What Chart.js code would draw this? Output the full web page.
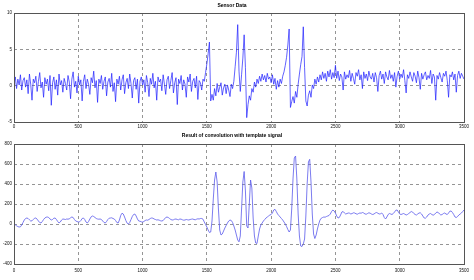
<!DOCTYPE html>
<html>
<head>
<meta charset="utf-8">
<script src="https://cdn.jsdelivr.net/npm/chart.js@4.4.0/dist/chart.umd.min.js"></script>
<style>
  body { margin: 0; background: #fff; }
  #wrap { position: relative; width: 474px; height: 280px; }
  canvas { position: absolute; left: 0; }
</style>
</head>
<body>
<div id="wrap">
  <canvas id="sensor_graph" width="474" height="130" style="top:0px"></canvas>
  <canvas id="conv_graph" width="474" height="150" style="top:130px"></canvas>
</div>
<script>
// sample spacing of both series (x = index * step)
const step = 10;

// Sensor Data, one value every 10 samples, 0..3500
const sensorValues = [
  0.3, 1.2, -0.4, 0.9, 0.1, 1.5, -0.6, 0.7, 1.1, -0.2,
  0.8, -1.1, 1.6, 0.2, -2.0, 0.9, 0.4, 1.3, -0.8, 0.6,
  1.8, -0.3, 0.5, -1.6, 1.1, 0.2, 0.9, -0.7, 1.4, -2.7,
  0.4, 1.2, -0.5, 0.8, -1.3, 1.6, 0.1, 0.7, -0.9, 1.0,
  0.3, -0.6, 1.4, 0.5, -1.8, 0.9, 1.9, -0.2, 0.6, -1.0,
  1.3, 0.1, 0.8, -2.1, 0.6, 1.5, -0.4, 0.9, 0.2, -1.2,
  1.1, 0.4, 2.0, -0.3, 0.7, -2.3, 0.9, 0.3, 1.4, -0.5,
  0.6, 1.2, -1.4, 0.5, 1.0, -0.2, 1.7, -0.8, 0.4, -2.2,
  0.9, 0.2, 1.3, -0.6, 0.8, 1.5, -1.1, 0.4, 1.0, -0.4,
  1.6, 0.3, -1.7, 0.7, 1.1, -0.5, 0.9, -2.4, 0.6, 1.2,
  0.1, 0.8, -0.9, 1.4, 0.4, -1.5, 1.0, 0.2, 1.7, -0.3,
  0.6, -2.0, 1.2, 0.5, 0.9, -0.7, 1.5, 0.2, -1.2, 0.8,
  1.3, -0.4, 0.7, 1.8, -1.0, 0.4, 1.1, -2.6, 0.9, 0.3,
  1.4, -0.6, 0.8, 0.2, -1.6, 1.2, 0.5, 1.6, -0.8, 0.6,
  1.0, -0.3, 1.3, -1.9, 0.7, 0.4, -0.6, 0.9, 0.6, 1.8,
  3.0, 4.4, 6.0, -2.1, -1.2, -2.0, -0.4, -1.4, 0.3, -0.9,
  -0.2, 0.4, -1.3, -0.3, 0.2, -1.1, 0.1, -0.6, -1.5, 0.2,
  -0.4, 0.6, 2.6, 4.6, 8.4, 2.0, -0.8, 1.5, 3.8, 7.0,
  2.5, -4.4, -2.6, -1.4, -2.0, -0.4, -0.9, 0.5, -0.2, 0.9,
  0.3, 1.3, 0.6, 1.6, 0.8, 1.4, 0.5, 1.7, 0.9, 1.2,
  0.4, 1.5, 0.2, 1.0, -0.5, 0.7, -0.2, 0.9, 0.3, 1.3,
  1.9, 2.8, 3.9, 5.6, 7.8, -3.0, -2.2, -1.5, -2.4, -0.8,
  -1.6, 0.2, 1.6, 2.9, 4.0, 8.1, 2.5, -2.1, -2.8, -1.3,
  -0.7, -1.6, 0.1, -0.4, 0.9, 0.2, 1.2, 0.5, 1.5, 0.8,
  1.9, 1.0, 1.7, 0.6, 2.0, 1.2, 2.2, 0.9, 1.8, 1.1,
  2.8, 1.0, 2.0, 0.7, 1.6, 1.2, -0.6, 1.9, 0.9, 1.5,
  1.1, 2.1, 0.6, 1.7, 1.0, 0.2, 1.8, 1.3, 2.2, 0.8,
  1.5, -0.4, 1.9, 1.0, 1.6, 0.7, 2.0, 1.2, 0.9, 1.7,
  0.5, 1.8, 1.1, -0.8, 1.4, 2.0, 0.9, 1.6, 0.3, 1.9,
  1.2, 0.8, 2.1, 1.0, 1.5, 0.6, 1.8, -0.2, 1.3, 2.0,
  0.9, 1.6, 1.1, 2.2, 0.7, -1.0, 1.5, 1.0, 1.9, 1.2,
  0.6, 1.8, 1.3, 0.4, 2.0, 1.1, -0.5, 1.7, 0.9, 1.5,
  1.9, 0.8, 1.4, 1.0, 2.1, 0.3, 1.6, 1.2, -2.0, 1.4,
  0.9, 1.8, 1.1, 0.5, 1.7, 1.3, 2.0, 0.7, -1.6, 1.5,
  1.2, 1.9, 0.8, 1.6, -0.9, 1.4, 2.0, 1.0, 1.7, 1.3,
  0.9
];

// Result of convolution with template signal, same spacing
const convValues = [
  0, -8, -18, -26, -30, -28, -10, 15, 40, 55,
  60, 55, 42, 30, 32, 45, 58, 60, 48, 30,
  15, 10, 25, 45, 60, 68, 70, 65, 50, 40,
  45, 58, 60, 45, 25, 10, 20, 40, 50, 48,
  45, 50, 48, 52, 62, 70, 65, 45, 30, 25,
  20, 22, 35, 55, 60, 45, 20, 10, 25, 50,
  72, 80, 75, 65, 55, 50, 48, 50, 45, 30,
  15, 10, 25, 45, 58, 60, 62, 55, 50, 35,
  15, 10, 40, 85, 108, 100, 70, 35, 8, 0,
  15, 45, 75, 95, 100, 80, 50, 30, 28, 22,
  20, 25, 35, 40, 38, 45, 55, 60, 58, 50,
  45, 40, 42, 38, 32, 30, 35, 50, 65, 70,
  65, 55, 45, 40, 42, 48, 50, 45, 42, 50,
  48, 42, 38, 40, 45, 42, 40, 45, 48, 50,
  45, 42, 48, 52, 50, 55, 55, 48, 20, -5,
  -30, -60, -85, -80, 30, 250, 440, 520, 420, 150,
  -60, -110, -100, -70, -40, -15, 10, 30, 40, 35,
  15, -20, -60, -110, -160, -178, -120, 150, 420, 525,
  330, -20, -40, 200, 440, 360, 60, -120, -190, -195,
  -120, -50, -10, 10, 30, 45, 60, 70, 80, 90,
  95, 110, 140, 147, 125, 100, 85, 70, 55, 40,
  20, 0, -25, -55, -80, -60, 150, 450, 660, 680,
  450, 100, -120, -220, -225, -200, -150, 80, 400, 620,
  647, 420, 100, -100, -145, -110, -50, 0, 40, 58,
  65, 70, 68, 75, 80, 85, 100, 125, 140, 130,
  110, 80, 60, 65, 90, 120, 125, 110, 100, 105,
  110, 108, 100, 105, 112, 110, 102, 98, 105, 110,
  108, 115, 110, 100, 98, 105, 112, 108, 100, 95,
  100, 110, 115, 108, 100, 102, 110, 95, 65, 50,
  70, 95, 105, 100, 95, 105, 120, 138, 140, 120,
  100, 95, 100, 105, 98, 90, 95, 105, 115, 125,
  120, 105, 95, 90, 100, 110, 112, 100, 80, 60,
  58, 70, 90, 100, 105, 95, 88, 95, 110, 120,
  115, 100, 90, 95, 105, 110, 100, 95, 110, 128,
  130, 115, 95, 70, 65, 75, 90, 100, 110, 125,
  140
];

const xRange = [0, 3500];
const xTickStep = 500;
const sensorRange = [-5, 10];
const sensorTickStep = 5;
const convRange = [-400, 800];
const convTickStep = 200;

const boxPlugin = {
  id: 'box',
  afterDraw(chart) {
    const a = chart.chartArea;
    const ctx = chart.ctx;
    ctx.save();
    ctx.strokeStyle = '#555';
    ctx.lineWidth = 1;
    ctx.strokeRect(Math.round(a.left) + 0.5, Math.round(a.top) + 0.5,
      Math.round(a.right - a.left), Math.round(a.bottom - a.top));
    ctx.restore();
  }
};

function toPoints(values) {
  return values.map((v, i) => ({ x: i * step, y: v }));
}

const tickFont = { family: 'Liberation Sans, Arial, sans-serif', size: 4.5 };

function makeChart(canvasId, title, values, yRange, yStep, lineColor, lineWidth, titlePad, xPad, xHeight) {
  const ctx = document.getElementById(canvasId).getContext('2d');
  return new Chart(ctx, {
    type: 'line',
    data: {
      datasets: [{
        data: toPoints(values),
        borderColor: lineColor,
        borderWidth: lineWidth,
        pointRadius: 0,
        tension: 0,
        fill: false
      }]
    },
    options: {
      responsive: false,
      animation: false,
      events: [],
      layout: { padding: { left: 0, right: 10, top: 0, bottom: 0 } },
      plugins: {
        legend: { display: false },
        tooltip: { enabled: false },
        title: {
          display: true,
          text: title,
          color: '#000',
          font: { family: 'Liberation Sans, Arial, sans-serif', size: 5, weight: 'bold' },
          padding: titlePad
        }
      },
      scales: {
        x: {
          type: 'linear',
          min: xRange[0],
          max: xRange[1],
          afterFit: (s) => { s.height = xHeight; },
          ticks: {
            stepSize: xTickStep,
            padding: xPad,
            color: '#111',
            font: tickFont,
            maxRotation: 0,
            callback: (v) => String(v)
          },
          grid: { color: '#7a7a7a', lineWidth: 0.8, drawTicks: false },
          border: { display: false, dash: [3, 3] }
        },
        y: {
          min: yRange[0],
          max: yRange[1],
          afterFit: (s) => { s.width = 14; },
          ticks: {
            stepSize: yStep,
            padding: 2,
            color: '#111',
            font: tickFont,
            callback: (v) => String(v)
          },
          grid: { color: '#7a7a7a', lineWidth: 0.8, drawTicks: false },
          border: { display: false, dash: [3, 3] }
        }
      }
    },
    plugins: [boxPlugin]
  });
}

makeChart('sensor_graph', 'Sensor Data', sensorValues, sensorRange, sensorTickStep,
  'rgb(30,30,255)', 0.7, { top: 3, bottom: 4 }, 2, 8);
makeChart('conv_graph', 'Result of convolution with template signal', convValues, convRange, convTickStep,
  'rgb(90,90,235)', 0.8, { top: 3, bottom: 5 }, 4, 16);
</script>
</body>
</html>
